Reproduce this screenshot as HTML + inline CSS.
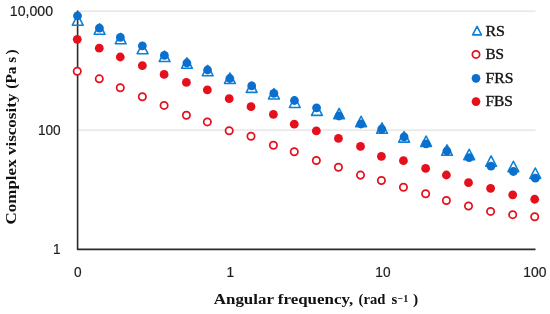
<!DOCTYPE html>
<html><head><meta charset="utf-8"><title>Complex viscosity</title>
<style>
html,body{margin:0;padding:0;background:#fff;}
svg{display:block;}
.num{font-family:"Liberation Sans",sans-serif;font-size:15.4px;fill:#1c1c1c;stroke:#1c1c1c;stroke-width:0.2px;}
.leg{font-family:"Liberation Serif",serif;font-size:14.2px;fill:#111;stroke:#111;stroke-width:0.35px;}
.ttl{font-family:"Liberation Serif",serif;font-size:15.6px;font-weight:bold;fill:#111;}
</style></head><body>
<svg width="550" height="314" viewBox="0 0 550 314">
<rect width="550" height="314" fill="#fff"/>
<g stroke="#d9d9d9" stroke-width="1"><line x1="77.5" y1="11.1" x2="535.5" y2="11.1"/><line x1="77.5" y1="130.1" x2="535.5" y2="130.1"/></g>
<g stroke="#2b2b2b" stroke-width="1.6" fill="none" stroke-linejoin="round"><path d="M77.6 10.6V249.4H535.5"/></g>
<g>
<path d="M77.75 14.80L83.15 25.20L72.35 25.20Z" fill="none" stroke="#0c7fd6" stroke-width="1.6" stroke-linejoin="round"/>
<path d="M99.60 23.80L105.00 34.20L94.20 34.20Z" fill="none" stroke="#0c7fd6" stroke-width="1.6" stroke-linejoin="round"/>
<path d="M120.70 33.40L126.10 43.80L115.30 43.80Z" fill="none" stroke="#0c7fd6" stroke-width="1.6" stroke-linejoin="round"/>
<path d="M142.60 43.30L148.00 53.70L137.20 53.70Z" fill="none" stroke="#0c7fd6" stroke-width="1.6" stroke-linejoin="round"/>
<path d="M164.60 51.15L170.00 61.55L159.20 61.55Z" fill="none" stroke="#0c7fd6" stroke-width="1.6" stroke-linejoin="round"/>
<path d="M186.95 57.90L192.35 68.30L181.55 68.30Z" fill="none" stroke="#0c7fd6" stroke-width="1.6" stroke-linejoin="round"/>
<path d="M207.70 65.35L213.10 75.75L202.30 75.75Z" fill="none" stroke="#0c7fd6" stroke-width="1.6" stroke-linejoin="round"/>
<path d="M229.90 73.05L235.30 83.45L224.50 83.45Z" fill="none" stroke="#0c7fd6" stroke-width="1.6" stroke-linejoin="round"/>
<path d="M251.70 82.00L257.10 92.40L246.30 92.40Z" fill="none" stroke="#0c7fd6" stroke-width="1.6" stroke-linejoin="round"/>
<path d="M273.90 88.55L279.30 98.95L268.50 98.95Z" fill="none" stroke="#0c7fd6" stroke-width="1.6" stroke-linejoin="round"/>
<path d="M294.80 97.10L300.20 107.50L289.40 107.50Z" fill="none" stroke="#0c7fd6" stroke-width="1.6" stroke-linejoin="round"/>
<path d="M316.95 105.00L322.35 115.40L311.55 115.40Z" fill="none" stroke="#0c7fd6" stroke-width="1.6" stroke-linejoin="round"/>
<path d="M339.10 108.35L344.50 118.75L333.70 118.75Z" fill="none" stroke="#0c7fd6" stroke-width="1.6" stroke-linejoin="round"/>
<path d="M361.10 116.25L366.50 126.65L355.70 126.65Z" fill="none" stroke="#0c7fd6" stroke-width="1.6" stroke-linejoin="round"/>
<path d="M382.00 122.85L387.40 133.25L376.60 133.25Z" fill="none" stroke="#0c7fd6" stroke-width="1.6" stroke-linejoin="round"/>
<path d="M404.10 131.70L409.50 142.10L398.70 142.10Z" fill="none" stroke="#0c7fd6" stroke-width="1.6" stroke-linejoin="round"/>
<path d="M426.10 136.00L431.50 146.40L420.70 146.40Z" fill="none" stroke="#0c7fd6" stroke-width="1.6" stroke-linejoin="round"/>
<path d="M447.00 144.90L452.40 155.30L441.60 155.30Z" fill="none" stroke="#0c7fd6" stroke-width="1.6" stroke-linejoin="round"/>
<path d="M469.20 149.25L474.60 159.65L463.80 159.65Z" fill="none" stroke="#0c7fd6" stroke-width="1.6" stroke-linejoin="round"/>
<path d="M491.10 155.85L496.50 166.25L485.70 166.25Z" fill="none" stroke="#0c7fd6" stroke-width="1.6" stroke-linejoin="round"/>
<path d="M513.40 161.25L518.80 171.65L508.00 171.65Z" fill="none" stroke="#0c7fd6" stroke-width="1.6" stroke-linejoin="round"/>
<path d="M535.30 168.00L540.70 178.40L529.90 178.40Z" fill="none" stroke="#0c7fd6" stroke-width="1.6" stroke-linejoin="round"/>
</g><g>
<circle cx="77.25" cy="71.20" r="3.65" fill="#fff" stroke="#e60f1c" stroke-width="1.75"/>
<circle cx="99.27" cy="78.84" r="3.65" fill="#fff" stroke="#e60f1c" stroke-width="1.75"/>
<circle cx="120.27" cy="87.75" r="3.65" fill="#fff" stroke="#e60f1c" stroke-width="1.75"/>
<circle cx="142.35" cy="96.70" r="3.65" fill="#fff" stroke="#e60f1c" stroke-width="1.75"/>
<circle cx="164.10" cy="105.40" r="3.65" fill="#fff" stroke="#e60f1c" stroke-width="1.75"/>
<circle cx="186.40" cy="115.30" r="3.65" fill="#fff" stroke="#e60f1c" stroke-width="1.75"/>
<circle cx="207.35" cy="121.90" r="3.65" fill="#fff" stroke="#e60f1c" stroke-width="1.75"/>
<circle cx="229.20" cy="130.80" r="3.65" fill="#fff" stroke="#e60f1c" stroke-width="1.75"/>
<circle cx="251.00" cy="136.20" r="3.65" fill="#fff" stroke="#e60f1c" stroke-width="1.75"/>
<circle cx="273.40" cy="145.20" r="3.65" fill="#fff" stroke="#e60f1c" stroke-width="1.75"/>
<circle cx="294.25" cy="151.80" r="3.65" fill="#fff" stroke="#e60f1c" stroke-width="1.75"/>
<circle cx="316.35" cy="160.45" r="3.65" fill="#fff" stroke="#e60f1c" stroke-width="1.75"/>
<circle cx="338.45" cy="167.20" r="3.65" fill="#fff" stroke="#e60f1c" stroke-width="1.75"/>
<circle cx="360.50" cy="175.10" r="3.65" fill="#fff" stroke="#e60f1c" stroke-width="1.75"/>
<circle cx="381.40" cy="180.50" r="3.65" fill="#fff" stroke="#e60f1c" stroke-width="1.75"/>
<circle cx="403.45" cy="187.20" r="3.65" fill="#fff" stroke="#e60f1c" stroke-width="1.75"/>
<circle cx="425.65" cy="193.80" r="3.65" fill="#fff" stroke="#e60f1c" stroke-width="1.75"/>
<circle cx="446.40" cy="200.50" r="3.65" fill="#fff" stroke="#e60f1c" stroke-width="1.75"/>
<circle cx="468.50" cy="206.00" r="3.65" fill="#fff" stroke="#e60f1c" stroke-width="1.75"/>
<circle cx="490.60" cy="211.40" r="3.65" fill="#fff" stroke="#e60f1c" stroke-width="1.75"/>
<circle cx="512.70" cy="214.65" r="3.65" fill="#fff" stroke="#e60f1c" stroke-width="1.75"/>
<circle cx="534.70" cy="216.80" r="3.65" fill="#fff" stroke="#e60f1c" stroke-width="1.75"/>
</g><g>
<circle cx="77.50" cy="15.80" r="4.4" fill="#0b6fce"/>
<circle cx="99.40" cy="28.10" r="4.4" fill="#0b6fce"/>
<circle cx="120.35" cy="37.40" r="4.4" fill="#0b6fce"/>
<circle cx="142.35" cy="45.80" r="4.4" fill="#0b6fce"/>
<circle cx="164.40" cy="55.40" r="4.4" fill="#0b6fce"/>
<circle cx="186.90" cy="63.00" r="4.4" fill="#0b6fce"/>
<circle cx="207.56" cy="70.00" r="4.4" fill="#0b6fce"/>
<circle cx="229.80" cy="78.50" r="4.4" fill="#0b6fce"/>
<circle cx="251.70" cy="85.90" r="4.4" fill="#0b6fce"/>
<circle cx="273.84" cy="93.30" r="4.4" fill="#0b6fce"/>
<circle cx="294.45" cy="100.50" r="4.4" fill="#0b6fce"/>
<circle cx="316.55" cy="107.80" r="4.4" fill="#0b6fce"/>
<circle cx="339.00" cy="116.00" r="4.4" fill="#0b6fce"/>
<circle cx="361.00" cy="124.00" r="4.4" fill="#0b6fce"/>
<circle cx="381.70" cy="129.10" r="4.4" fill="#0b6fce"/>
<circle cx="404.10" cy="136.90" r="4.4" fill="#0b6fce"/>
<circle cx="426.10" cy="143.90" r="4.4" fill="#0b6fce"/>
<circle cx="446.90" cy="151.00" r="4.4" fill="#0b6fce"/>
<circle cx="469.20" cy="157.60" r="4.4" fill="#0b6fce"/>
<circle cx="491.00" cy="166.20" r="4.4" fill="#0b6fce"/>
<circle cx="513.35" cy="171.50" r="4.4" fill="#0b6fce"/>
<circle cx="535.30" cy="178.20" r="4.4" fill="#0b6fce"/>
</g><g>
<circle cx="77.25" cy="39.30" r="4.4" fill="#e60f1c"/>
<circle cx="99.27" cy="48.20" r="4.4" fill="#e60f1c"/>
<circle cx="120.27" cy="57.00" r="4.4" fill="#e60f1c"/>
<circle cx="142.35" cy="65.70" r="4.4" fill="#e60f1c"/>
<circle cx="164.10" cy="74.40" r="4.4" fill="#e60f1c"/>
<circle cx="186.40" cy="82.40" r="4.4" fill="#e60f1c"/>
<circle cx="207.35" cy="89.90" r="4.4" fill="#e60f1c"/>
<circle cx="229.20" cy="98.70" r="4.4" fill="#e60f1c"/>
<circle cx="251.00" cy="106.70" r="4.4" fill="#e60f1c"/>
<circle cx="273.40" cy="114.40" r="4.4" fill="#e60f1c"/>
<circle cx="294.25" cy="124.20" r="4.4" fill="#e60f1c"/>
<circle cx="316.35" cy="130.90" r="4.4" fill="#e60f1c"/>
<circle cx="338.45" cy="138.40" r="4.4" fill="#e60f1c"/>
<circle cx="360.50" cy="146.40" r="4.4" fill="#e60f1c"/>
<circle cx="381.40" cy="156.30" r="4.4" fill="#e60f1c"/>
<circle cx="403.45" cy="160.70" r="4.4" fill="#e60f1c"/>
<circle cx="425.65" cy="168.40" r="4.4" fill="#e60f1c"/>
<circle cx="446.40" cy="175.00" r="4.4" fill="#e60f1c"/>
<circle cx="468.50" cy="182.65" r="4.4" fill="#e60f1c"/>
<circle cx="490.60" cy="188.30" r="4.4" fill="#e60f1c"/>
<circle cx="512.70" cy="194.80" r="4.4" fill="#e60f1c"/>
<circle cx="534.70" cy="199.25" r="4.4" fill="#e60f1c"/>
</g>
<g class="num" lengthAdjust="spacingAndGlyphs">
<text x="53.0" y="15.8" text-anchor="end" textLength="43.2" lengthAdjust="spacingAndGlyphs">10,000</text>
<text x="60.7" y="135.0" text-anchor="end" textLength="22.8" lengthAdjust="spacingAndGlyphs">100</text>
<text x="60.7" y="254.1" text-anchor="end" textLength="7.6" lengthAdjust="spacingAndGlyphs">1</text>
<text x="77.8" y="277.4" text-anchor="middle" textLength="7.6" lengthAdjust="spacingAndGlyphs">0</text>
<text x="230.4" y="277.4" text-anchor="middle" textLength="7.6" lengthAdjust="spacingAndGlyphs">1</text>
<text x="382.9" y="277.4" text-anchor="middle" textLength="15.2" lengthAdjust="spacingAndGlyphs">10</text>
<text x="534.9" y="277.4" text-anchor="middle" textLength="23.2" lengthAdjust="spacingAndGlyphs">100</text>
</g>
<path d="M477.05 26.40L481.45 34.90L472.65 34.90Z" fill="none" stroke="#0c7fd6" stroke-width="1.6" stroke-linejoin="round"/>
<circle cx="476" cy="54.4" r="3.65" fill="#fff" stroke="#e60f1c" stroke-width="1.75"/>
<circle cx="476" cy="78.3" r="4.35" fill="#0b6fce"/>
<circle cx="476" cy="101.6" r="4.35" fill="#e60f1c"/>
<g class="leg">
<text x="485.4" y="35.7" textLength="19.6" lengthAdjust="spacingAndGlyphs">RS</text>
<text x="485.4" y="58.7" textLength="18.6" lengthAdjust="spacingAndGlyphs">BS</text>
<text x="485.4" y="83.3" textLength="28.0" lengthAdjust="spacingAndGlyphs">FRS</text>
<text x="485.4" y="106.3" textLength="27.4" lengthAdjust="spacingAndGlyphs">FBS</text>
</g>
<g class="ttl">
<text x="213.8" y="304.3" textLength="139.4" lengthAdjust="spacingAndGlyphs">Angular frequency,</text>
<text x="358.6" y="304.4" textLength="26.8" lengthAdjust="spacingAndGlyphs">(rad</text>
<text x="391.6" y="304.4" textLength="5.8" lengthAdjust="spacingAndGlyphs">s</text>
<text x="397.4" y="302.3" font-size="10px" textLength="10.8" lengthAdjust="spacingAndGlyphs">−1</text>
<text x="413.0" y="304.4">)</text>
<text transform="translate(16 224.6) rotate(-90)" textLength="131.0" lengthAdjust="spacingAndGlyphs">Complex viscosity</text>
<text transform="translate(16 88.7) rotate(-90)" textLength="31.8" lengthAdjust="spacingAndGlyphs">(Pa s</text>
<text transform="translate(16 54.6) rotate(-90)">)</text>
</g>
</svg>
</body></html>
